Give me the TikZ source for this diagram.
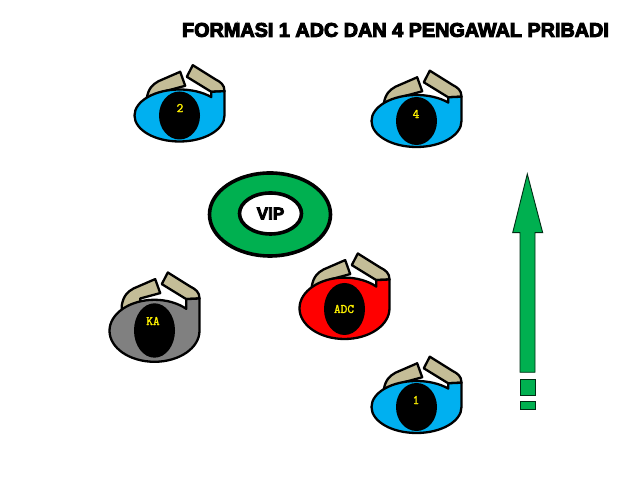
\documentclass[tikz,border=0pt]{standalone}
\usepackage{fontspec}
\usetikzlibrary{shapes.geometric}
\setmainfont{Liberation Sans}
\newfontfamily\titlefont[FakeBold=5]{Liberation Sans Bold}
\newfontfamily\labelfont[FakeBold=1.6]{Latin Modern Mono}
\definecolor{gblue}{HTML}{00B0F0}
\definecolor{gred}{HTML}{FF0000}
\definecolor{ggray}{HTML}{808080}
\definecolor{gtan}{HTML}{C4BD97}
\definecolor{ggreen}{HTML}{00B050}
\tikzset{
  outline/.style={draw=black,line width=2.3pt,line join=round},
  guardlabel/.style={text=yellow,font=\labelfont\fontsize{13}{14}\selectfont,inner sep=0pt},
  arrowpart/.style={fill=ggreen,draw=black!75!ggreen,line width=0.9pt,line join=miter},
  ring/.style={ellipse,draw=black,line width=3.6pt,inner sep=0pt},
  pics/guard/.style n args={5}{code={
    % #1 fill, #2 body centre dy, #3 body ry, #4 head centre dy, #5 head ry
    \draw[outline,fill=gtan] (0.7,43.7) -- (5.7,29.7) -- (-14.3,24.3) -- (-14.3,8) -- (-32.7,8)
      -- (-32.7,17.7) .. controls (-31,27) and (-27,31) .. (-21,34.3) -- cycle;
    \draw[outline,fill=gtan] (13.3,50.3) -- (7.3,38.7) -- (31.7,23.7) -- (45,24.3)
      .. controls (45,31) and (41,33.5) .. (35.7,36.3) -- cycle;
    \draw[outline,fill=#1] (45,#2) arc[start angle=0,end angle=-315,x radius=45,y radius=#3]
      -- (31.7,23.7) -- (45,24.3) -- cycle;
    \fill[black] (0,#4) ellipse[x radius=20.5,y radius=#5];
  }}
}
\begin{document}
\begin{tikzpicture}[x=1pt,y=1pt]
\useasboundingbox (0,0) rectangle (638,478);
\node[font=\titlefont\fontsize{19.8}{21}\selectfont,inner sep=0pt] (title) at (395.5,448) {FORMASI 1 ADC DAN 4 PENGAWAL PRIBADI};
% VIP ring
\node[ring,fill=ggreen,minimum width=121pt,minimum height=83pt] (ringouter) at (270,263.5) {};
\node[ring,fill=white,minimum width=62pt,minimum height=41pt,font=\titlefont\fontsize{17}{18}\selectfont] (vip) at (270.5,264.5) {VIP};
% guards
\pic at (179.5,362.5) {guard={gblue}{0}{26}{0}{24}};
\pic at (416.5,357) {guard={gblue}{0}{26}{0}{24}};
\pic at (416.5,71) {guard={gblue}{0}{26}{0}{24}};
\pic at (344.5,174.2) {guard={gred}{-4.5}{30.7}{-5.2}{26}};
\pic at (154.5,155.2) {guard={ggray}{-8}{31}{-7.7}{27.2}};
\node[guardlabel] (l2) at (180,370) {2};
\node[guardlabel] (l4) at (416,364) {4};
\node[guardlabel] (l1) at (416,78) {1};
\node[guardlabel] (ladc) at (344,169) {ADC};
\node[guardlabel] (lka) at (153,157) {KA};
% arrow
\draw[arrowpart] (527.3,304) -- (542.7,245.3) -- (535,245.3) -- (535,105.7) -- (520,105.7) -- (520,245.3) -- (512.7,245.3) -- cycle;
\draw[arrowpart] (520,83) rectangle (535,98.7);
\draw[arrowpart] (520,68.7) rectangle (535,77);
\end{tikzpicture}
\end{document}
